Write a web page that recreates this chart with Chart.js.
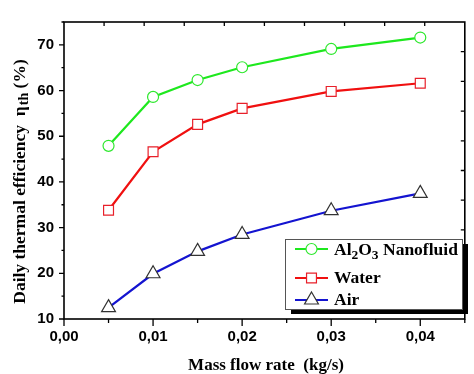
<!DOCTYPE html>
<html>
<head>
<meta charset="utf-8">
<script src="https://cdn.jsdelivr.net/npm/chart.js@4"></script>
<style>
body{margin:0;background:#fff;}
canvas{display:block;}
</style>
</head>
<body>
<canvas id="myChart" width="474" height="374"></canvas>
<script>
// mass flow rate (kg/s)
var flowRate=[0.005,0.01,0.015,0.02,0.03,0.04];
// daily thermal efficiency (%)
var nanofluid=[47.9,58.6,62.3,65.1,69.1,71.6];
var water=[33.8,46.6,52.6,56.1,59.8,61.6];
var air=[12.5,19.9,24.8,28.5,33.7,37.5];
var seriesNames=["Nanofluid","Water","Air"];

function pts(ys){
  return flowRate.map(function(x,i){return {x:x,y:ys[i]};});
}

var serif="'Liberation Serif', 'Times New Roman', serif";
var sans="'Liberation Sans', Arial, sans-serif";

var framePlugin={
  id:"frame",
  afterDraw:function(chart){
    var ctx=chart.ctx, a=chart.chartArea;
    var xs=chart.scales.x, ys=chart.scales.y;
    ctx.save();
    ctx.strokeStyle="#000";
    ctx.lineWidth=1.6;
    ctx.strokeRect(a.left,a.top,a.right-a.left,a.bottom-a.top);
    ctx.lineWidth=1.3;
    ctx.beginPath();
    // bottom ticks, outward
    for(var v=0;v<=45;v+=5){
      var px=xs.getPixelForValue(v/1000);
      var len=(v%10===0)?7:4;
      ctx.moveTo(px,a.bottom);ctx.lineTo(px,a.bottom+len);
    }
    // left ticks, outward
    for(var w=10;w<=75;w+=5){
      var py=ys.getPixelForValue(w);
      var l2=(w%10===0)?5:2.5;
      ctx.moveTo(a.left,py);ctx.lineTo(a.left-l2,py);
    }
    // top and right ticks, inward
    for(var k=1;k<10;k++){
      var tx=a.left+(a.right-a.left)*k/10;
      ctx.moveTo(tx,a.top);ctx.lineTo(tx,a.top+4);
      var ty=a.bottom-(a.bottom-a.top)*k/10;
      ctx.moveTo(a.right,ty);ctx.lineTo(a.right-4,ty);
    }
    ctx.stroke();

    // axis titles
    ctx.fillStyle="#000";
    ctx.font="bold 17px "+serif;
    ctx.textAlign="center";
    ctx.textBaseline="alphabetic";
    ctx.fillText("Mass flow rate  (kg/s)",266,370);

    ctx.save();
    ctx.translate(25,182);
    ctx.rotate(-Math.PI/2);
    var p1="Daily thermal efficiency  \u03b7", p2="th", p3=" (%)";
    ctx.font="bold 17.5px "+serif;
    var w1=ctx.measureText(p1).width, w3=ctx.measureText(p3).width;
    ctx.font="bold 14px "+serif;
    var w2=ctx.measureText(p2).width;
    var x0=-(w1+w2+w3)/2;
    ctx.textAlign="left";
    ctx.font="bold 17.5px "+serif;
    ctx.fillText(p1,x0,0);
    ctx.font="bold 14px "+serif;
    ctx.fillText(p2,x0+w1+1,3);
    ctx.font="bold 17.5px "+serif;
    ctx.fillText(p3,x0+w1+w2+1,0);
    ctx.restore();

    // legend with shadow
    var bx=285,by=239,bw=177,bh=70;
    ctx.fillStyle="#000";
    ctx.fillRect(bx+6,by+5,bw,bh);
    ctx.fillStyle="#fff";
    ctx.fillRect(bx,by,bw,bh);
    ctx.strokeStyle="#555";
    ctx.lineWidth=1;
    ctx.strokeRect(bx+0.5,by+0.5,bw,bh);

    var rows=[249,278,300];
    var baseY=[255,283,305];
    chart.data.datasets.forEach(function(ds,i){
      ctx.strokeStyle=ds.borderColor;
      ctx.lineWidth=2;
      ctx.beginPath();
      ctx.moveTo(295,rows[i]);ctx.lineTo(328,rows[i]);
      ctx.stroke();
      ctx.fillStyle="#fff";
      ctx.strokeStyle=ds.pointBorderColor;
      ctx.lineWidth=1.2;
      Chart.helpers.drawPoint(ctx,{pointStyle:ds.pointStyle,radius:ds.pointRadius,borderWidth:1.2},311.5,rows[i]);
    });
    ctx.fillStyle="#000";
    ctx.textAlign="left";
    var tx0=334;
    ctx.font="bold 17.5px "+serif;
    ctx.fillText("Al",tx0,baseY[0]);
    var cx=tx0+ctx.measureText("Al").width;
    ctx.font="bold 13.5px "+serif;
    ctx.fillText("2",cx,baseY[0]+4);
    cx+=ctx.measureText("2").width;
    ctx.font="bold 17.5px "+serif;
    ctx.fillText("O",cx,baseY[0]);
    cx+=ctx.measureText("O").width;
    ctx.font="bold 13.5px "+serif;
    ctx.fillText("3",cx,baseY[0]+4);
    cx+=ctx.measureText("3").width;
    ctx.font="bold 17.5px "+serif;
    ctx.fillText(" "+seriesNames[0],cx,baseY[0]);
    ctx.fillText(seriesNames[1],tx0,baseY[1]);
    ctx.fillText(seriesNames[2],tx0,baseY[2]);
    ctx.restore();
  }
};

var ctx=document.getElementById("myChart").getContext("2d");
var lineChart=new Chart(ctx,{
  type:"line",
  data:{
    datasets:[{
      label:"Al2O3 Nanofluid",
      data:pts(nanofluid),
      borderColor:"#1ee81e",
      borderWidth:2.2,
      pointStyle:"circle",
      pointRadius:5.5,
      pointBorderColor:"#2ee82e",
      pointBackgroundColor:"#fff",
      pointBorderWidth:1.2
    },{
      label:"Water",
      data:pts(water),
      borderColor:"#f01010",
      borderWidth:2.2,
      pointStyle:"rect",
      pointRadius:7,
      pointBorderColor:"#e8202a",
      pointBackgroundColor:"#fff",
      pointBorderWidth:1.2
    },{
      label:"Air",
      data:pts(air),
      borderColor:"#1414d0",
      borderWidth:2.2,
      pointStyle:"triangle",
      pointRadius:8,
      pointBorderColor:"#333",
      pointBackgroundColor:"#fff",
      pointBorderWidth:1.2
    }]
  },
  options:{
    responsive:false,
    animation:false,
    layout:{padding:{left:0,top:22,right:5,bottom:0}},
    plugins:{legend:{display:false},tooltip:{enabled:false}},
    scales:{
      x:{
        type:"linear",
        min:0,max:0.045,
        grid:{display:false,drawTicks:false},
        border:{display:false},
        ticks:{
          stepSize:0.005,autoSkip:false,maxRotation:0,padding:9,
          color:"#000",font:{family:sans,size:15,weight:"bold"},
          callback:function(v){
            var m=Math.round(v*1000);
            return (m%10===0)?(m/1000).toFixed(2).replace(".",","):"";
          }
        },
        afterFit:function(s){s.height=55;}
      },
      y:{
        min:10,max:75,
        grid:{display:false,drawTicks:false},
        border:{display:false},
        ticks:{
          stepSize:5,autoSkip:false,padding:10,
          color:"#000",font:{family:sans,size:15,weight:"bold"},
          callback:function(v){return (Math.round(v)%10===0)?String(v):"";}
        },
        afterFit:function(s){s.width=64;}
      }
    }
  },
  plugins:[framePlugin]
});
</script>
</body>
</html>
